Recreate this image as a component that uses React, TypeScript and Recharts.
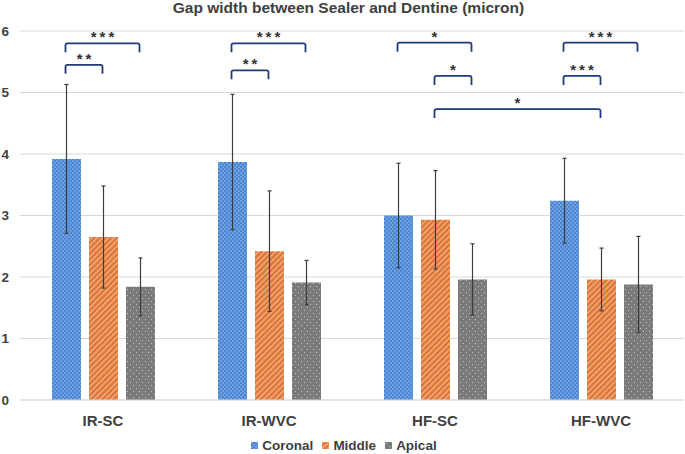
import React from "react";
import { BarChart, Bar, XAxis, YAxis, CartesianGrid, ErrorBar, Legend, ReferenceLine } from "recharts";

const categories = ["IR-SC", "IR-WVC", "HF-SC", "HF-WVC"];
const coronal = [3.92, 3.87, 3.0, 3.24];
const coronalSd = [1.21, 1.1, 0.85, 0.69];
const middle = [2.65, 2.42, 2.93, 1.96];
const middleSd = [0.83, 0.98, 0.8, 0.51];
const apical = [1.84, 1.91, 1.96, 1.88];
const apicalSd = [0.47, 0.36, 0.58, 0.78];
const yTicks = [0, 1, 2, 3, 4, 5, 6];
const seriesNames = ["Coronal", "Middle", "Apical"];

// significance brackets between bars: [category, series index], height in micron, stars
const brackets: { a: [string, number]; b: [string, number]; y: number; stars: string }[] = [
  { a: ["IR-SC", 0], b: ["IR-SC", 2], y: 5.8, stars: "***" },
  { a: ["IR-SC", 0], b: ["IR-SC", 1], y: 5.45, stars: "**" },
  { a: ["IR-WVC", 0], b: ["IR-WVC", 2], y: 5.8, stars: "***" },
  { a: ["IR-WVC", 0], b: ["IR-WVC", 1], y: 5.36, stars: "**" },
  { a: ["HF-SC", 0], b: ["HF-SC", 2], y: 5.81, stars: "*" },
  { a: ["HF-SC", 1], b: ["HF-SC", 2], y: 5.27, stars: "*" },
  { a: ["HF-SC", 1], b: ["HF-WVC", 1], y: 4.73, stars: "*" },
  { a: ["HF-WVC", 0], b: ["HF-WVC", 2], y: 5.81, stars: "***" },
  { a: ["HF-WVC", 0], b: ["HF-WVC", 1], y: 5.27, stars: "***" },
];

const rows = categories.map((name, i) => ({
  name,
  coronal: coronal[i],
  coronalSd: coronalSd[i],
  middle: middle[i],
  middleSd: middleSd[i],
  apical: apical[i],
  apicalSd: apicalSd[i],
}));

// layout
const W = 685;
const H = 454;
const Y_AXIS_W = 20;
const MARGIN_RIGHT = 1;
const BAR_SIZE = 29;
const BAR_GAP = 8;
const FONT = "'Liberation Sans', Arial, sans-serif";
const patternIds = ["patCoronal", "patMiddle", "patApical"];

// pixel shift of a series' bar centre from its category centre (recharts centres a fixed-size bar group)
const bandPx = (W - Y_AXIS_W - MARGIN_RIGHT) / categories.length;
const groupOffset = Math.floor((bandPx - (3 * BAR_SIZE + 2 * BAR_GAP)) / 2);
const seriesShift = (s: number) => groupOffset + s * (BAR_SIZE + BAR_GAP) + BAR_SIZE / 2 - bandPx / 2;

const bracketShape = (stars: string, sa: number, sb: number) => (props: any) => {
  const x1 = props.x1 + seriesShift(sa);
  const x2 = props.x2 + seriesShift(sb);
  const y1 = props.y1;
  const r = 2;
  const drop = 9;
  const d = `M${x1},${y1 + drop} L${x1},${y1 + r} Q${x1},${y1} ${x1 + r},${y1} L${x2 - r},${y1} Q${x2},${y1} ${x2},${y1 + r} L${x2},${y1 + drop}`;
  return (
    <g>
      <path d={d} fill="none" stroke="#1f3a7a" strokeWidth={1.8} />
      <text
        x={(x1 + x2) / 2 + 1.5}
        y={y1 - 1}
        textAnchor="middle"
        fontSize={15}
        fontWeight={700}
        letterSpacing={3}
        fill="#333"
        fontFamily={FONT}
      >
        {stars}
      </text>
    </g>
  );
};

function Patterns() {
  return (
    <svg width={0} height={0} style={{ position: "absolute" }}>
      <defs>
        <pattern id="patCoronal" width={4} height={4} patternUnits="userSpaceOnUse">
          <rect width={4} height={4} fill="#4a86d2" />
          <rect width={2} height={2} fill="#6f9fe0" />
          <rect x={2} y={2} width={2} height={2} fill="#6f9fe0" />
        </pattern>
        <pattern id="patMiddle" width={4} height={4} patternUnits="userSpaceOnUse" patternTransform="rotate(45)">
          <rect width={4} height={4} fill="#dc7433" />
          <rect width={1.6} height={4} fill="#f2ad80" />
        </pattern>
        <pattern id="patApical" width={6} height={6} patternUnits="userSpaceOnUse">
          <rect width={6} height={6} fill="#7b7b7b" />
          <rect x={1} y={1} width={1} height={1} fill="#c4c4c4" />
          <rect x={4} y={4} width={1} height={1} fill="#c4c4c4" />
        </pattern>
      </defs>
    </svg>
  );
}

const renderLegend = () => (
  <div
    style={{
      display: "flex",
      justifyContent: "center",
      alignItems: "center",
      gap: 9,
      height: 18,
      fontSize: 13.5,
      fontWeight: 700,
      color: "#404040",
      fontFamily: FONT,
      paddingLeft: 4,
    }}
  >
    {seriesNames.map((n, i) => (
      <span key={n} style={{ display: "flex", alignItems: "center" }}>
        <svg width={7} height={7} style={{ marginRight: 4 }}>
          <rect width={7} height={7} fill={`url(#${patternIds[i]})`} />
        </svg>
        {n}
      </span>
    ))}
  </div>
);

export default function App() {
  return (
    <div style={{ position: "absolute", left: 0, top: 0, width: W, height: H, background: "#fff" }}>
      <Patterns />
      <div
        style={{
          position: "absolute",
          top: 0,
          left: 0,
          width: W,
          paddingLeft: 12,
          boxSizing: "border-box",
          textAlign: "center",
          fontFamily: FONT,
          fontWeight: 700,
          fontSize: 15.5,
          lineHeight: "15px",
          color: "#404040",
        }}
      >
        Gap width between Sealer and Dentine (micron)
      </div>
      <BarChart
        width={W}
        height={H}
        data={rows}
        margin={{ top: 31, right: MARGIN_RIGHT, left: 0, bottom: 0 }}
        barSize={BAR_SIZE}
        barGap={BAR_GAP}
      >
        <CartesianGrid vertical={false} stroke="#d9d9d9" />
        <XAxis
          dataKey="name"
          height={36}
          tickLine={false}
          axisLine={{ stroke: "#d9d9d9" }}
          tickMargin={9}
          tick={{ fontSize: 15, fontWeight: 700, fill: "#404040", fontFamily: FONT }}
        />
        <YAxis
          width={Y_AXIS_W}
          domain={[0, 6]}
          ticks={yTicks}
          tickLine={false}
          axisLine={false}
          tickSize={0}
          tickMargin={11}
          tick={{ fontSize: 13.5, fontWeight: 700, fill: "#404040", fontFamily: FONT }}
        />
        <Legend verticalAlign="bottom" height={18} content={renderLegend} />
        <Bar dataKey="coronal" name="Coronal" fill="url(#patCoronal)" isAnimationActive={false}>
          <ErrorBar dataKey="coronalSd" direction="y" width={2} stroke="#3c3c3c" strokeWidth={1.2} isAnimationActive={false} />
        </Bar>
        <Bar dataKey="middle" name="Middle" fill="url(#patMiddle)" isAnimationActive={false}>
          <ErrorBar dataKey="middleSd" direction="y" width={2} stroke="#3c3c3c" strokeWidth={1.2} isAnimationActive={false} />
        </Bar>
        <Bar dataKey="apical" name="Apical" fill="url(#patApical)" isAnimationActive={false}>
          <ErrorBar dataKey="apicalSd" direction="y" width={2} stroke="#3c3c3c" strokeWidth={1.2} isAnimationActive={false} />
        </Bar>
        {brackets.map((b, i) => (
          <ReferenceLine
            key={i}
            segment={[
              { x: b.a[0], y: b.y },
              { x: b.b[0], y: b.y },
            ]}
            shape={bracketShape(b.stars, b.a[1], b.b[1])}
          />
        ))}
      </BarChart>
    </div>
  );
}
